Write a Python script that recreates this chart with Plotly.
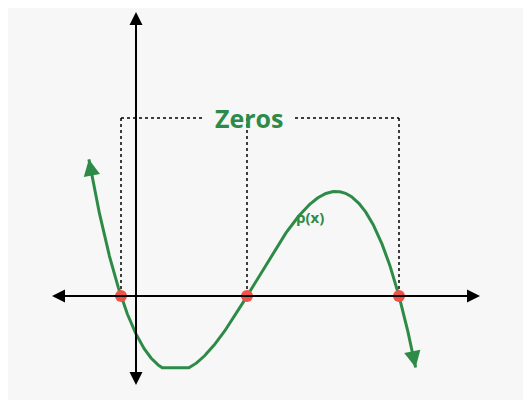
import numpy as np
import plotly.graph_objects as go

zeros = [-0.57, 4.22, 10.0]
lead = -0.06
title = "Zeros"
label = "p(x)"

U = 26.3
OFF = 8
X0, Y0 = 136 - OFF, 296 - OFF
W, H = 531 - OFF, 400 - OFF
def px(x): return (x - OFF - X0) / U
def py(y): return (Y0 - (y - OFF)) / U

xs = np.linspace(-3.0, 11.2, 800)
ys = lead * (xs - zeros[0]) * (xs - zeros[1]) * (xs - zeros[2])
m = (ys <= py(158)) & (ys >= py(368)) & (xs <= px(416))
xs, ys = xs[m], ys[m]

green = "#2e8b47"
fig = go.Figure()
fig.add_trace(go.Scatter(x=xs, y=ys, mode="lines", line=dict(color=green, width=3), hoverinfo="skip"))
fig.add_trace(go.Scatter(x=zeros, y=[0]*3, mode="markers", marker=dict(color="#f0524a", size=12), hoverinfo="skip"))

def arrow(x1, y1, x0, y0, color, w):
    fig.add_annotation(x=x1, y=y1, ax=x0, ay=y0, xref="x", yref="y", axref="x", ayref="y",
                       showarrow=True, arrowhead=2, arrowsize=1.3 if w < 3 else 1.1, arrowwidth=w, arrowcolor=color, text="")

arrow(px(480), 0, px(60), 0, "black", 2)
arrow(px(52), 0, px(470), 0, "black", 2)
arrow(0, py(12), 0, py(370), "black", 2)
arrow(0, py(385), 0, py(20), "black", 2)
arrow(xs[0], ys[0], xs[6], ys[6], green, 3)
arrow(xs[-1], ys[-1], xs[-6], ys[-6], green, 3)

ytop = py(118)
dash = dict(color="black", width=1.5, dash="dot")
fig.add_shape(type="line", x0=zeros[0], x1=px(205), y0=ytop, y1=ytop, line=dash)
fig.add_shape(type="line", x0=px(295), x1=zeros[2], y0=ytop, y1=ytop, line=dash)
for z in zeros:
    fig.add_shape(type="line", x0=z, x1=z, y0=ytop, y1=0, line=dash, layer="below")

fig.add_annotation(x=px(249), y=ytop, text=f"<b>{title}</b>", showarrow=False,
                   font=dict(color=green, size=25, family="Open Sans"))
fig.add_annotation(x=px(310), y=py(217), text=f"<b>{label}</b>", showarrow=False,
                   font=dict(color=green, size=15, family="Open Sans"))

fig.update_layout(width=W, height=H, margin=dict(l=0, r=0, t=0, b=0),
                  paper_bgcolor="#f7f7f7", plot_bgcolor="#f7f7f7", showlegend=False,
                  xaxis=dict(range=[px(OFF), px(531)], visible=False),
                  yaxis=dict(range=[py(400), py(OFF)], visible=False))
fig.write_html("out.html")
